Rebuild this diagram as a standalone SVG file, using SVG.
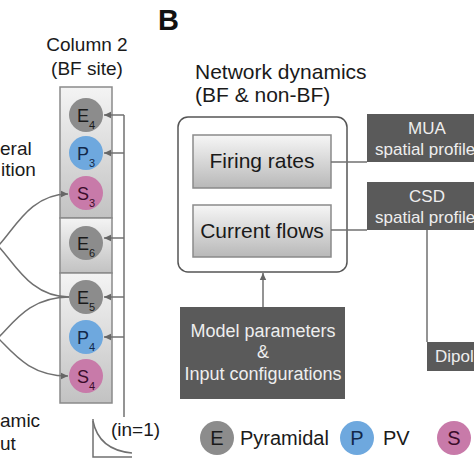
<svg xmlns="http://www.w3.org/2000/svg" width="474" height="474" viewBox="0 0 474 474">
<defs>
<linearGradient id="colG" x1="0" y1="0" x2="0" y2="1">
<stop offset="0" stop-color="#f4f4f4"/><stop offset="1" stop-color="#c2c2c2"/>
</linearGradient>
<linearGradient id="boxG" x1="0" y1="0" x2="0" y2="1">
<stop offset="0" stop-color="#f6f6f6"/><stop offset="1" stop-color="#b8b8b8"/>
</linearGradient>
<marker id="ah" markerWidth="8" markerHeight="8" refX="7" refY="4" orient="auto" markerUnits="userSpaceOnUse">
<path d="M0,0.8 L7,4 L0,7.2 Z" fill="#666"/>
</marker>
</defs>
<style>
text{font-family:"Liberation Sans",Arial,sans-serif;}
.t{font-size:19px;fill:#1a1a1a;}
.tb{font-size:21px;fill:#1a1a1a;}
.w{font-size:17px;fill:#eeeeee;}
.wm{font-size:18px;fill:#eeeeee;}
.lab{font-size:18px;}
.sub{font-size:11px;}
.E{fill:#8c8c8c;}
.P{fill:#6ea8de;}
.S{fill:#c87aa9;}
.tE{fill:#1a1a1a;}
.tP{fill:#13284a;}
.tS{fill:#3b0d2b;}
.ln{fill:none;stroke:#707070;stroke-width:1.5;}
.sec{fill:url(#colG);stroke:#8a8a8a;stroke-width:1.5;}
.dark{fill:#5a5a5a;}
</style>
<rect width="474" height="474" fill="#ffffff"/>

<g id="panelA-labels">
<text class="t" x="87" y="51" text-anchor="middle">Column 2</text>
<text class="t" x="87" y="75" text-anchor="middle">(BF site)</text>
<text class="t" x="0" y="155">eral</text>
<text class="t" x="1" y="176">ition</text>
<text class="t" x="0" y="427">amic</text>
<text class="t" x="0" y="450">ut</text>
<text class="t" x="111" y="436">(in=1)</text>
</g>

<g id="column2">
<rect class="sec" x="60" y="87" width="52" height="131"/>
<rect class="sec" x="60" y="218" width="52" height="55"/>
<rect class="sec" x="60" y="273" width="52" height="130"/>
</g>

<g id="E4"><circle class="E" cx="86" cy="115" r="17"/><text class="lab tE" x="77" y="122">E<tspan class="sub" dy="7">4</tspan></text></g>
<g id="P3"><circle class="P" cx="86" cy="153" r="17"/><text class="lab tP" x="77" y="160">P<tspan class="sub" dy="7">3</tspan></text></g>
<g id="S3"><circle class="S" cx="86" cy="193" r="17"/><text class="lab tS" x="77" y="200">S<tspan class="sub" dy="7">3</tspan></text></g>
<g id="E6"><circle class="E" cx="86" cy="243" r="17"/><text class="lab tE" x="77" y="250">E<tspan class="sub" dy="7">6</tspan></text></g>
<g id="E5"><circle class="E" cx="86" cy="297" r="17"/><text class="lab tE" x="77" y="304">E<tspan class="sub" dy="7">5</tspan></text></g>
<g id="P4"><circle class="P" cx="86" cy="337" r="17"/><text class="lab tP" x="77" y="344">P<tspan class="sub" dy="7">4</tspan></text></g>
<g id="S4"><circle class="S" cx="86" cy="376" r="17"/><text class="lab tS" x="77" y="383">S<tspan class="sub" dy="7">4</tspan></text></g>

<g id="decay">
<path class="ln" d="M93,419 L93,457 L132,457"/>
<path class="ln" d="M93,421 C97,441 110,451 132,453"/>
</g>

<text id="labelB" x="158" y="30" style="font-size:29px;font-weight:bold;fill:#111;">B</text>

<g id="network">
<text class="tb" x="195" y="79">Network dynamics</text>
<text class="tb" x="195" y="102">(BF &amp; non-BF)</text>
<rect x="178" y="117" width="169" height="155" rx="10" fill="#fff" stroke="#555" stroke-width="1.5"/>
</g>
<g id="firing">
<rect x="193" y="135" width="138" height="53" fill="url(#boxG)" stroke="#8a8a8a" stroke-width="1.5"/>
<text class="tb" x="262" y="168" text-anchor="middle">Firing rates</text>
</g>
<g id="current">
<rect x="193" y="205" width="138" height="52" fill="url(#boxG)" stroke="#8a8a8a" stroke-width="1.5"/>
<text class="tb" x="262" y="238" text-anchor="middle">Current flows</text>
</g>
<g id="mua">
<rect class="dark" x="367" y="114" width="130" height="48"/>
<text class="w" x="427" y="134" text-anchor="middle">MUA</text>
<text class="w" x="375" y="155">spatial profile</text>
</g>
<g id="csd">
<rect class="dark" x="367" y="182" width="130" height="48"/>
<text class="w" x="427" y="202" text-anchor="middle">CSD</text>
<text class="w" x="375" y="223">spatial profile</text>
</g>
<g id="dipole">
<rect class="dark" x="427" y="342" width="60" height="29"/>
<text class="w" x="435" y="362">Dipol</text>
</g>
<g id="model">
<rect class="dark" x="180" y="307" width="165" height="92"/>
<text class="wm" x="263" y="337" text-anchor="middle">Model parameters</text>
<text class="wm" x="263" y="358" text-anchor="middle">&amp;</text>
<text class="wm" x="263" y="380" text-anchor="middle">Input configurations</text>
</g>

<g id="legend">
<circle class="E" cx="217" cy="438" r="17"/><text x="217" y="445" text-anchor="middle" style="font-size:20px;fill:#1a1a1a;">E</text>
<text x="240" y="445" style="font-size:20px;fill:#1a1a1a;">Pyramidal</text>
<circle class="P" cx="357" cy="438" r="17"/><text x="357" y="445" text-anchor="middle" style="font-size:20px;fill:#13284a;">P</text>
<text x="383" y="445" style="font-size:20px;fill:#1a1a1a;">PV</text>
<circle class="S" cx="454" cy="438" r="17"/><text x="454" y="445" text-anchor="middle" style="font-size:20px;fill:#3b0d2b;">S</text>
</g>

<g id="connectors">
<path class="ln" d="M124,417 L124,115"/>
<path class="ln" d="M124,115 L104,115" marker-end="url(#ah)"/>
<path class="ln" d="M124,153 L104,153" marker-end="url(#ah)"/>
<path class="ln" d="M124,238 L104,238" marker-end="url(#ah)"/>
<path class="ln" d="M124,297 L104,297" marker-end="url(#ah)"/>
<path class="ln" d="M124,337 L104,337" marker-end="url(#ah)"/>
<path class="ln" d="M-2,246 C14,230 30,194 68,194" marker-end="url(#ah)"/>
<path class="ln" d="M-2,246 C14,262 30,297 69,297"/>
<path class="ln" d="M-2,338 C14,322 30,297 69,297"/>
<path class="ln" d="M-2,338 C14,354 30,376 68,376" marker-end="url(#ah)"/>
<path class="ln" d="M331,162 L367,162"/>
<path class="ln" d="M331,230 L367,230"/>
<path class="ln" d="M427,230 L427,342"/>
<path class="ln" d="M263,307 L263,273" marker-end="url(#ah)"/>
</g>
</svg>
